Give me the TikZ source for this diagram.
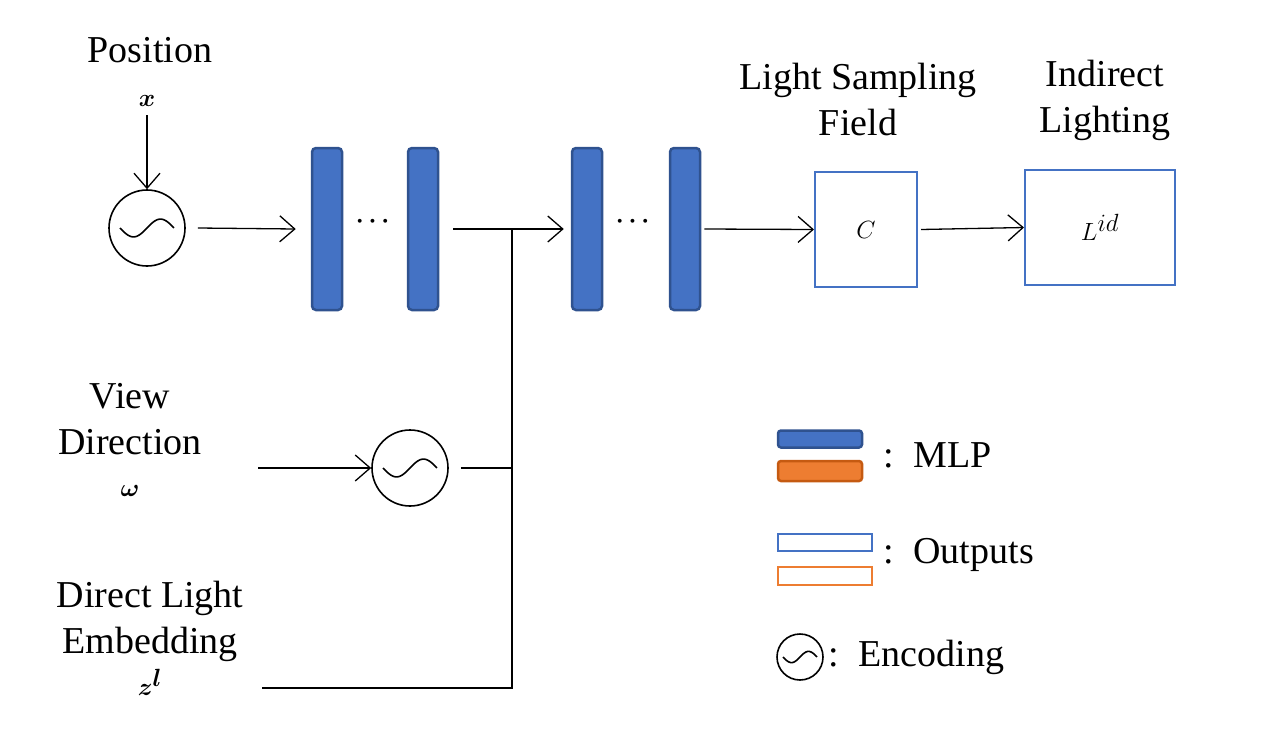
\documentclass[tikz,border=0pt]{standalone}
\usepackage{amsmath,bm}
\usepackage{fontspec}
\setmainfont{Liberation Serif}
\usetikzlibrary{arrows.meta}
\definecolor{mblue}{HTML}{4472C4}
\definecolor{mbluedark}{HTML}{2F528F}
\definecolor{morange}{HTML}{ED7D31}
\definecolor{morangedark}{HTML}{C55A11}
\begin{document}
\begin{tikzpicture}[x=1pt,y=-1pt,
  line width=1.3pt,
  arr/.style={-{Straight Barb[length=15pt,width=26pt,line width=1.3pt]}},
  bar/.style={draw=mbluedark,fill=mblue,line width=2.5pt,rounded corners=4pt,minimum width=30pt,minimum height=162pt,inner sep=0pt},
  enc/.style={draw,circle,minimum size=#1,inner sep=0pt,line width=1.6pt},
  outbox/.style={draw=mblue,line width=2pt,inner sep=0pt},
  lab/.style={font=\fontsize{38}{46}\selectfont,align=center},
  wave/.pic={\draw[line width=1.6pt] plot[domain=-1:1,samples=40,smooth] ({#1*\x},{-0.33*#1*sin(180*\x)});}
]
\useasboundingbox (0,0) rectangle (1278,747);
% input position
\node[lab] (pos) at (150,50) {Position};
\node[lab] (x) at (147,101) {$\bm{x}$};
\node[enc=76pt] (e1) at (147,228) {};
\pic at (147,228) {wave=27};
\draw[arr] (147,115) -- (e1.north);
% MLP bars
\node[bar] (b1) at (327,229) {};
\node[bar] (b2) at (423,229) {};
\node[bar] (b3) at (587,229) {};
\node[bar] (b4) at (685,229) {};
\node[font=\fontsize{40}{46}\selectfont] at (375,222) {$\bm{\cdots}$};
\node[font=\fontsize{40}{46}\selectfont] at (635,222) {$\bm{\cdots}$};
\draw[arr] (e1.east)++(12,0) -- ([xshift=-15pt]b1.west);
\coordinate (j) at (512,228);
\draw[arr] ([xshift=14pt]b2.east) -- ([xshift=-7pt]b3.west);
% outputs
\node[outbox,minimum width=102pt,minimum height=115pt] (C) at (866,229.5) {\fontsize{44}{50}\selectfont $C$};
\node[outbox,minimum width=150pt,minimum height=115pt] (L) at (1100,227.5) {\fontsize{44}{50}\selectfont $L^{id}$};
\draw[arr] ([xshift=3pt]b4.east) -- (C.west);
\draw[arr] ([xshift=3pt]C.east) -- (L.west);
\node[lab] at (858,100) {Light Sampling\\Field};
\node[lab] at (1105,100) {Indirect\\Lighting};
% view direction
\node[lab] at (130,440) {View\\Direction\\[-4pt]$\bm{\omega}$};
\node[enc=76pt] (e2) at (410,468) {};
\pic at (410,468) {wave=27};
\draw[arr] (258,468) -- (e2.west);
\coordinate (j2) at (512,468);
\draw (e2.east)++(12,0) -- (j2);
% direct light
\node[lab] at (150,638) {Direct Light\\Embedding\\[-4pt]$\bm{z^{l}}$};
\coordinate (j3) at (512,688);
\draw (262,688) -- (j3) -- (j);
% legend
\node[draw=mbluedark,fill=mblue,line width=2.5pt,rounded corners=3pt,minimum width=84pt,minimum height=17pt,inner sep=0pt] (lb) at (820,439) {};
\node[draw=morangedark,fill=morange,line width=2.5pt,rounded corners=3pt,minimum width=84pt,minimum height=20pt,inner sep=0pt] (lo) at (820,471) {};
\node[lab,anchor=west] at (880,455) {:\ \ MLP};
\node[outbox,minimum width=94pt,minimum height=17pt] (ob) at (825,542) {};
\node[draw=morange,line width=2pt,inner sep=0pt,minimum width=94pt,minimum height=18pt] (oo) at (825,576) {};
\node[lab,anchor=west] at (880,555) {:\ \ Outputs};
\node[enc=46pt] (le) at (800,657) {};
\pic at (800,657) {wave=17};
\node[lab,anchor=west] at (825,657) {:\ \ Encoding};
\end{tikzpicture}
\end{document}
